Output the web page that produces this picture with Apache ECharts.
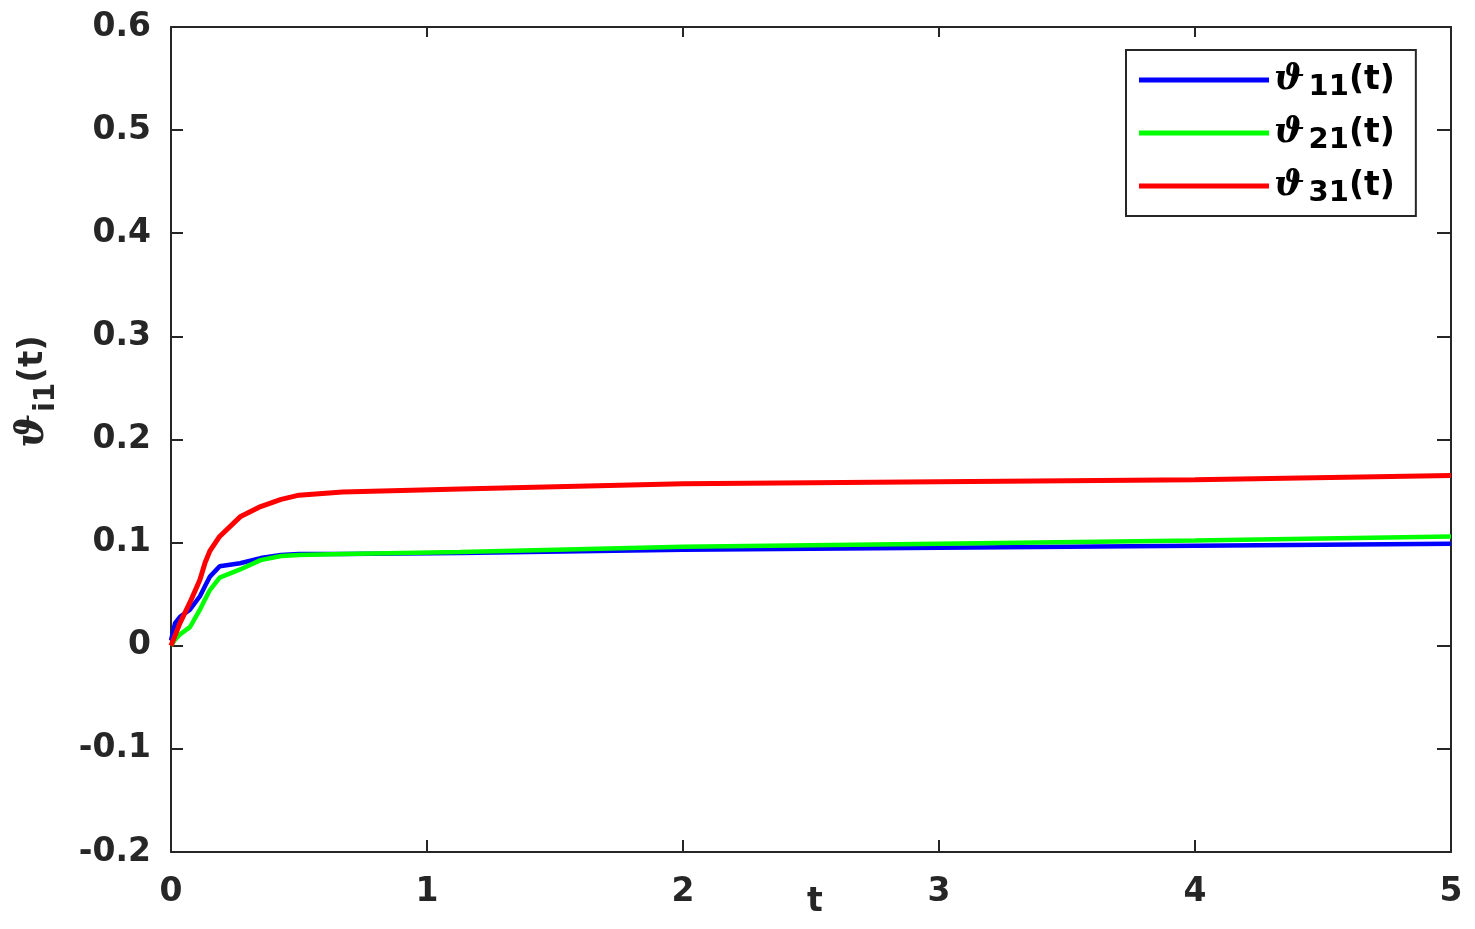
<!DOCTYPE html>
<html>
<head>
<meta charset="utf-8">
<script src="https://cdn.jsdelivr.net/npm/echarts@6/dist/echarts.min.js"></script>
<style>html,body{margin:0;padding:0;background:#fff}#c{width:1475px;height:929px}</style>
</head>
<body>
<div id="c"></div>
<script>
const tValues = [0, 0.016, 0.035, 0.074, 0.113, 0.133, 0.152, 0.19, 0.27, 0.35, 0.43, 0.5, 0.67, 1.13, 2, 3, 4, 5];
const theta11 = [0.005, 0.022, 0.028, 0.035, 0.048, 0.058, 0.067, 0.077, 0.080, 0.085, 0.088, 0.089, 0.089, 0.090, 0.093, 0.095, 0.097, 0.099];
const theta21 = [0, 0.006, 0.011, 0.018, 0.035, 0.045, 0.054, 0.066, 0.074, 0.083, 0.087, 0.088, 0.089, 0.091, 0.096, 0.099, 0.102, 0.106];
const theta31 = [0, 0.010, 0.022, 0.042, 0.064, 0.0805, 0.092, 0.106, 0.125, 0.135, 0.142, 0.146, 0.149, 0.152, 0.157, 0.159, 0.161, 0.165];
const seriesNames = ['θ11', 'θ21', 'θ31'];
const seriesSubs = ['11', '21', '31'];
const seriesColors = ['#0000ff', '#00ff00', '#ff0000'];
const xTicks = [0, 1, 2, 3, 4, 5];
const yTicks = [-0.2, -0.1, 0, 0.1, 0.2, 0.3, 0.4, 0.5, 0.6];

const axisColor = '#262626';
const font = 'DejaVu Sans';
const pair = (ys) => tValues.map((t, i) => [t, ys[i]]);
const allY = [theta11, theta21, theta31];

const chart = echarts.init(document.getElementById('c'), null, {renderer: 'canvas'});
const richStyles = {
  th: {fontFamily: 'DejaVu Serif', fontStyle: 'italic', fontWeight: 'bold', fontSize: 36, color: '#000', lineHeight: 44, verticalAlign: 'middle'},
  sub: {fontFamily: font, fontWeight: 'bold', fontSize: 29, color: '#000', lineHeight: 10, verticalAlign: 'bottom', padding: [0, 0, 0, 4]},
  p: {fontFamily: font, fontWeight: 'bold', fontSize: 33, color: '#000', lineHeight: 44, verticalAlign: 'middle'}
};
const axisRich = {
  th: {fontFamily: 'DejaVu Serif', fontStyle: 'italic', fontWeight: 'bold', fontSize: 40, color: axisColor, lineHeight: 56, verticalAlign: 'middle'},
  sub: {fontFamily: font, fontWeight: 'bold', fontSize: 28, color: axisColor, lineHeight: 10, verticalAlign: 'bottom', padding: [0, 0, 0, 2]},
  p: {fontFamily: font, fontWeight: 'bold', fontSize: 34, color: axisColor, lineHeight: 56, verticalAlign: 'middle'}
};
chart.setOption({
  animation: false,
  backgroundColor: '#fff',
  grid: {left: 171, top: 27, width: 1280, height: 825, containLabel: false, outerBoundsMode: 'none'},
  legend: {
    orient: 'vertical',
    left: 1126, top: 50,
    padding: [12, 21, 8, 13],
    itemWidth: 130, itemHeight: 5, itemGap: 13,
    backgroundColor: '#fff',
    borderColor: axisColor, borderWidth: 2, borderRadius: 0,
    data: seriesNames.map((n) => ({name: n, icon: 'rect'})),
    formatter: (name) => {
      const i = seriesNames.indexOf(name);
      return '{th|ϑ}{sub|' + seriesSubs[i] + '}{p|(t)}';
    },
    textStyle: {rich: richStyles, padding: [0, 0, 0, 0]}
  },
  xAxis: [{
    type: 'value', min: 0, max: 5, interval: 1, position: 'bottom',
    name: 't', nameLocation: 'middle', nameGap: 34, nameMoveOverlap: false,
    nameTextStyle: {fontFamily: font, fontWeight: 'bold', fontSize: 33, color: axisColor, padding: [0, 0, 0, 8]},
    axisLine: {show: true, onZero: false, lineStyle: {color: axisColor, width: 2}},
    axisTick: {show: true, inside: true, length: 12, lineStyle: {color: axisColor, width: 2}},
    axisLabel: {fontFamily: font, fontWeight: 'bold', fontSize: 33, color: axisColor, margin: 24,
      formatter: (v) => xTicks.includes(v) ? String(v) : ''},
    splitLine: {show: false}
  }, {
    type: 'value', min: 0, max: 5, interval: 1, position: 'top',
    axisLine: {show: true, onZero: false, lineStyle: {color: axisColor, width: 2}},
    axisTick: {show: true, inside: true, length: 10, lineStyle: {color: axisColor, width: 2}},
    axisLabel: {show: false}, splitLine: {show: false}
  }],
  yAxis: [{
    type: 'value', min: -0.2, max: 0.6, interval: 0.1, position: 'left',
    name: '{th|ϑ}{sub|i1}{p|(t)}', nameLocation: 'middle', nameGap: 110, nameRotate: 90, nameMoveOverlap: false,
    nameTextStyle: {rich: axisRich, padding: [0, 0, 0, 96]},
    axisLine: {show: true, onZero: false, lineStyle: {color: axisColor, width: 2}},
    axisTick: {show: true, inside: true, length: 12, lineStyle: {color: axisColor, width: 2}},
    axisLabel: {fontFamily: font, fontWeight: 'bold', fontSize: 33, color: axisColor, margin: 20,
      formatter: (v) => {
        const r = Math.round(v * 10) / 10;
        return yTicks.some((y) => Math.abs(y - r) < 1e-9) ? (r === 0 ? '0' : r.toFixed(1)) : '';
      }},
    splitLine: {show: false}
  }, {
    type: 'value', min: -0.2, max: 0.6, interval: 0.1, position: 'right',
    axisLine: {show: true, onZero: false, lineStyle: {color: axisColor, width: 2}},
    axisTick: {show: true, inside: true, length: 14, lineStyle: {color: axisColor, width: 2}},
    axisLabel: {show: false}, splitLine: {show: false}
  }],
  series: seriesNames.map((n, i) => ({
    name: n, type: 'line', showSymbol: false, symbol: 'none', smooth: false,
    data: pair(allY[i]),
    color: seriesColors[i],
    lineStyle: {color: seriesColors[i], width: i === 2 ? 5 : 4.5},
    itemStyle: {color: seriesColors[i]}
  }))
});
</script>
</body>
</html>
